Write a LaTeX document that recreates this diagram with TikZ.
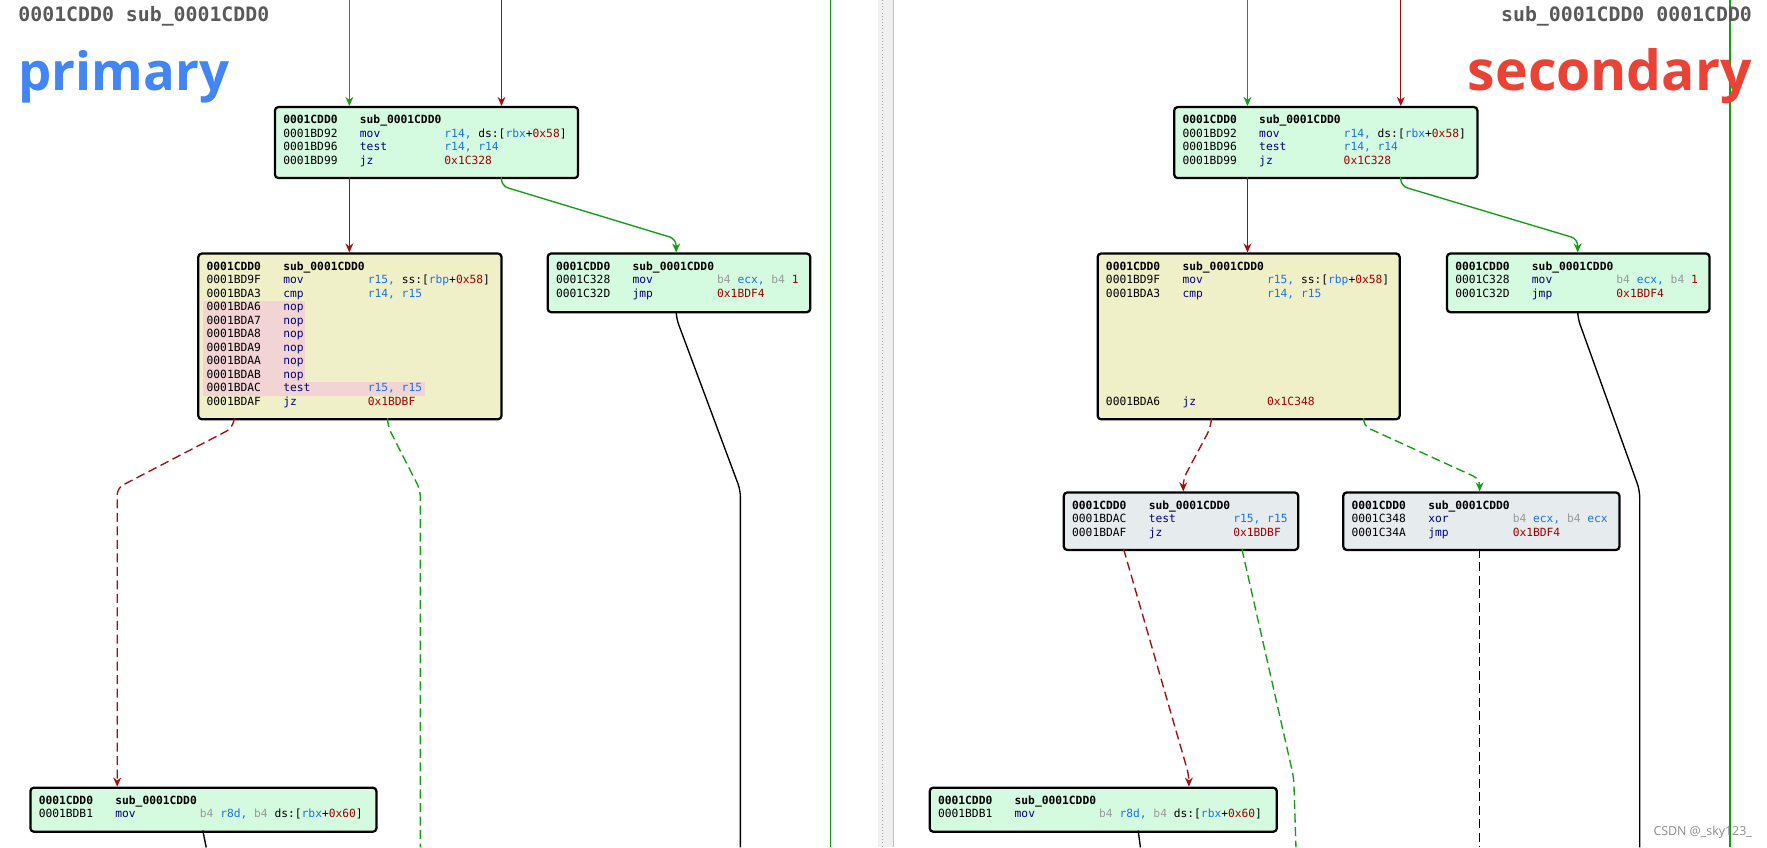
\documentclass[tikz,border=0pt]{standalone}
\usepackage{fontspec}
\setmainfont{Open Sans}
\setmonofont{DejaVu Sans Mono}
\usetikzlibrary{arrows.meta,calc}
\definecolor{gA}{HTML}{119E11}
\definecolor{rA}{HTML}{A00F0F}
\definecolor{bgG}{HTML}{D4FADF}
\definecolor{bgY}{HTML}{F0F0C8}
\definecolor{bgB}{HTML}{E6EBEE}
\definecolor{mnC}{HTML}{00007F}
\definecolor{rgC}{HTML}{1A73E8}
\definecolor{nmC}{HTML}{A00000}
\definecolor{gyC}{HTML}{9A9A9A}
\definecolor{hlC}{HTML}{F2D4D4}
\newcommand\mn[1]{\textcolor{mnC}{#1}}
\newcommand\rg[1]{\textcolor{rgC}{#1}}
\newcommand\nm[1]{\textcolor{nmC}{#1}}
\newcommand\gy[1]{\textcolor{gyC}{#1}}
\newcommand\codetab[1]{\ttfamily\fontsize{5}{6}\selectfont\renewcommand\arraystretch{1}\setlength\tabcolsep{0pt}\begin{tabular}{@{}p{34pt}p{37.5pt}l@{}}#1\end{tabular}}
\tikzset{
 blk/.style={draw=black,line width=1pt,rounded corners=1.5pt,anchor=north west,inner sep=0pt},
 gbox/.style={blk,fill=bgG},
 ybox/.style={blk,fill=bgY},
 bbox/.style={blk,fill=bgB},
 code/.style={anchor=north west,inner sep=0pt,align=left},
 edge/.style={line width=0.6pt,rounded corners=3pt,-{Stealth[length=4pt,width=3.5pt]}},
 plain/.style={line width=0.6pt,rounded corners=3pt},
 dsh/.style={dash pattern=on 4pt off 2pt},
 hl/.style={fill=hlC,draw=none}
}
\begin{document}
\begin{tikzpicture}[x=0.5pt,y=-0.5pt]
\useasboundingbox (0,0) rectangle (1568,752);
\fill[white] (0,0) rectangle (1568,752);
% separator
\fill[black!6] (779,0) rectangle (793,752);
\draw[black!35,densely dotted] (783,0) -- (783,752);
\draw[black!25] (793,0) -- (793,752);
\draw[gA,line width=0.8pt] (737,0) -- (737,752);
\draw[gA,line width=0.8pt] (1535,0) -- (1535,752);
% headers
\node[anchor=base west,inner sep=0,text=black!65] (h1) at (16,19) {\ttfamily\bfseries\fontsize{8.8}{10}\selectfont 0001CDD0 sub\_0001CDD0};
\node[anchor=base east,inner sep=0,text=black!65] (h2) at (1555,19) {\ttfamily\bfseries\fontsize{8.8}{10}\selectfont sub\_0001CDD0 0001CDD0};
\node[anchor=base west,inner sep=0,text={rgb,255:red,66;green,133;blue,244}] (p) at (16,80) {\resizebox{93.5pt}{!}{\bfseries primary}};
\node[anchor=base east,inner sep=0,text={rgb,255:red,234;green,67;blue,53}] (s) at (1555,80) {\resizebox{126pt}{!}{\bfseries secondary}};
\node[anchor=base east,inner sep=0,text=black!45] (wm) at (1555,741) {\fontsize{5.5}{6}\selectfont CSDN @\_sky123\_};

% ===== left pane =====
\node[gbox,minimum width=134.5pt,minimum height=31.5pt] (A) at (243,94) {};
\node[code] (At) at (251,101) {\codetab{\bfseries 0001CDD0 & \bfseries sub\_0001CDD0 & \\
0001BD92 & \mn{mov} & \rg{r14,} ds:[\rg{rbx}+\nm{0x58}]\\
0001BD96 & \mn{test} & \rg{r14, r14}\\
0001BD99 & \mn{jz} & \nm{0x1C328}}};

\node[ybox,minimum width=134.5pt,minimum height=73.5pt] (B) at (175,224) {};
\fill[hl] (180,267) rectangle (271,339);
\fill[hl] (180,339) rectangle (377,351);
\node[code] (Bt) at (183,231) {\codetab{\bfseries 0001CDD0 & \bfseries sub\_0001CDD0 & \\
0001BD9F & \mn{mov} & \rg{r15,} ss:[\rg{rbp}+\nm{0x58}]\\
0001BDA3 & \mn{cmp} & \rg{r14, r15}\\
0001BDA6 & \mn{nop} & \\
0001BDA7 & \mn{nop} & \\
0001BDA8 & \mn{nop} & \\
0001BDA9 & \mn{nop} & \\
0001BDAA & \mn{nop} & \\
0001BDAB & \mn{nop} & \\
0001BDAC & \mn{test} & \rg{r15, r15}\\
0001BDAF & \mn{jz} & \nm{0x1BDBF}}};

\node[gbox,minimum width=116.5pt,minimum height=26pt] (C) at (485,224) {};
\node[code] (Ct) at (493,231) {\codetab{\bfseries 0001CDD0 & \bfseries sub\_0001CDD0 & \\
0001C328 & \mn{mov} & \gy{b4} \rg{ecx,} \gy{b4} \nm{1}\\
0001C32D & \mn{jmp} & \nm{0x1BDF4}}};

\node[gbox,minimum width=153.5pt,minimum height=19.5pt] (D) at (26,698) {};
\node[code] (Dt) at (34,705) {\codetab{\bfseries 0001CDD0 & \bfseries sub\_0001CDD0 & \\
0001BDB1 & \mn{mov} & \gy{b4} \rg{r8d,} \gy{b4} ds:[\rg{rbx}+\nm{0x60}]}};

\coordinate (inG) at (310,0); \coordinate (inR) at (445,0);
\coordinate (eB) at (373,752); \coordinate (eC) at (657,752); \coordinate (eD) at (183,752);
\draw[edge,gA] (inG) -- (310,94);
\draw[edge,rA] (inR) -- (445,94);
\draw[edge,rA] (310,157) -- (B.north -| 310,0);
\draw[edge,gA] (445,157) -- (445,165) -- (600,212) -- (600,224);
\draw[edge,rA,dsh] (208,371) -- (206,380) -- (104,433) -- (104,698);
\draw[plain,gA,dsh] (344,371) -- (344,378) -- (373,435) -- (eB);
\draw[plain,black] (600,276) -- (600,282) -- (657,435) -- (eC);
\draw[plain,black] (180,737) -- (eD);

% ===== right pane =====
\node[gbox,minimum width=134.5pt,minimum height=31.5pt] (A2) at (1041,94) {};
\node[code] (A2t) at (1049,101) {\codetab{\bfseries 0001CDD0 & \bfseries sub\_0001CDD0 & \\
0001BD92 & \mn{mov} & \rg{r14,} ds:[\rg{rbx}+\nm{0x58}]\\
0001BD96 & \mn{test} & \rg{r14, r14}\\
0001BD99 & \mn{jz} & \nm{0x1C328}}};

\node[ybox,minimum width=134pt,minimum height=73.5pt] (B2) at (973,224) {};
\node[code] (B2t) at (981,231) {\codetab{\bfseries 0001CDD0 & \bfseries sub\_0001CDD0 & \\
0001BD9F & \mn{mov} & \rg{r15,} ss:[\rg{rbp}+\nm{0x58}]\\
0001BDA3 & \mn{cmp} & \rg{r14, r15}\\
 & & \\ & & \\ & & \\ & & \\ & & \\ & & \\ & & \\
0001BDA6 & \mn{jz} & \nm{0x1C348}}};

\node[gbox,minimum width=116.5pt,minimum height=26pt] (C2) at (1283,224) {};
\node[code] (C2t) at (1291,231) {\codetab{\bfseries 0001CDD0 & \bfseries sub\_0001CDD0 & \\
0001C328 & \mn{mov} & \gy{b4} \rg{ecx,} \gy{b4} \nm{1}\\
0001C32D & \mn{jmp} & \nm{0x1BDF4}}};

\node[bbox,minimum width=104pt,minimum height=25.5pt] (E2) at (943,436) {};
\node[code] (E2t) at (951,443) {\codetab{\bfseries 0001CDD0 & \bfseries sub\_0001CDD0 & \\
0001BDAC & \mn{test} & \rg{r15, r15}\\
0001BDAF & \mn{jz} & \nm{0x1BDBF}}};

\node[bbox,minimum width=122.5pt,minimum height=25.5pt] (F2) at (1191,436) {};
\node[code] (F2t) at (1199,443) {\codetab{\bfseries 0001CDD0 & \bfseries sub\_0001CDD0 & \\
0001C348 & \mn{xor} & \gy{b4} \rg{ecx,} \gy{b4} \rg{ecx}\\
0001C34A & \mn{jmp} & \nm{0x1BDF4}}};

\node[gbox,minimum width=154pt,minimum height=19.5pt] (G2) at (824,698) {};
\node[code] (G2t) at (832,705) {\codetab{\bfseries 0001CDD0 & \bfseries sub\_0001CDD0 & \\
0001BDB1 & \mn{mov} & \gy{b4} \rg{r8d,} \gy{b4} ds:[\rg{rbx}+\nm{0x60}]}};

\coordinate (inG2) at (1107,0); \coordinate (inR2) at (1243,0);
\coordinate (eE2) at (1150,752); \coordinate (eF2) at (1313,752);
\coordinate (eC2) at (1455,752); \coordinate (eG2) at (1012,752);
\draw[edge,gA] (inG2) -- (1107,94);
\draw[edge,rA] (inR2) -- (1243,94);
\draw[edge,rA] (1107,157) -- (1107,224);
\draw[edge,gA] (1243,157) -- (1243,165) -- (1400,212) -- (1400,224);
\draw[edge,rA,dsh] (1075,371) -- (1074,380) -- (1050,425) -- (1050,436);
\draw[edge,gA,dsh] (1210,371) -- (1210,378) -- (1313,425) -- (1313,436);
\draw[edge,rA,dsh] (997,487) -- (1055,688) -- (1055,698);
\draw[plain,gA,dsh] (1102,487) -- (1148,690) -- (eE2);
\draw[plain,black,dsh] (1313,487) -- (eF2);
\draw[plain,black] (1400,276) -- (1400,282) -- (1455,435) -- (eC2);
\draw[plain,black] (1010,737) -- (eG2);
\end{tikzpicture}
\end{document}
